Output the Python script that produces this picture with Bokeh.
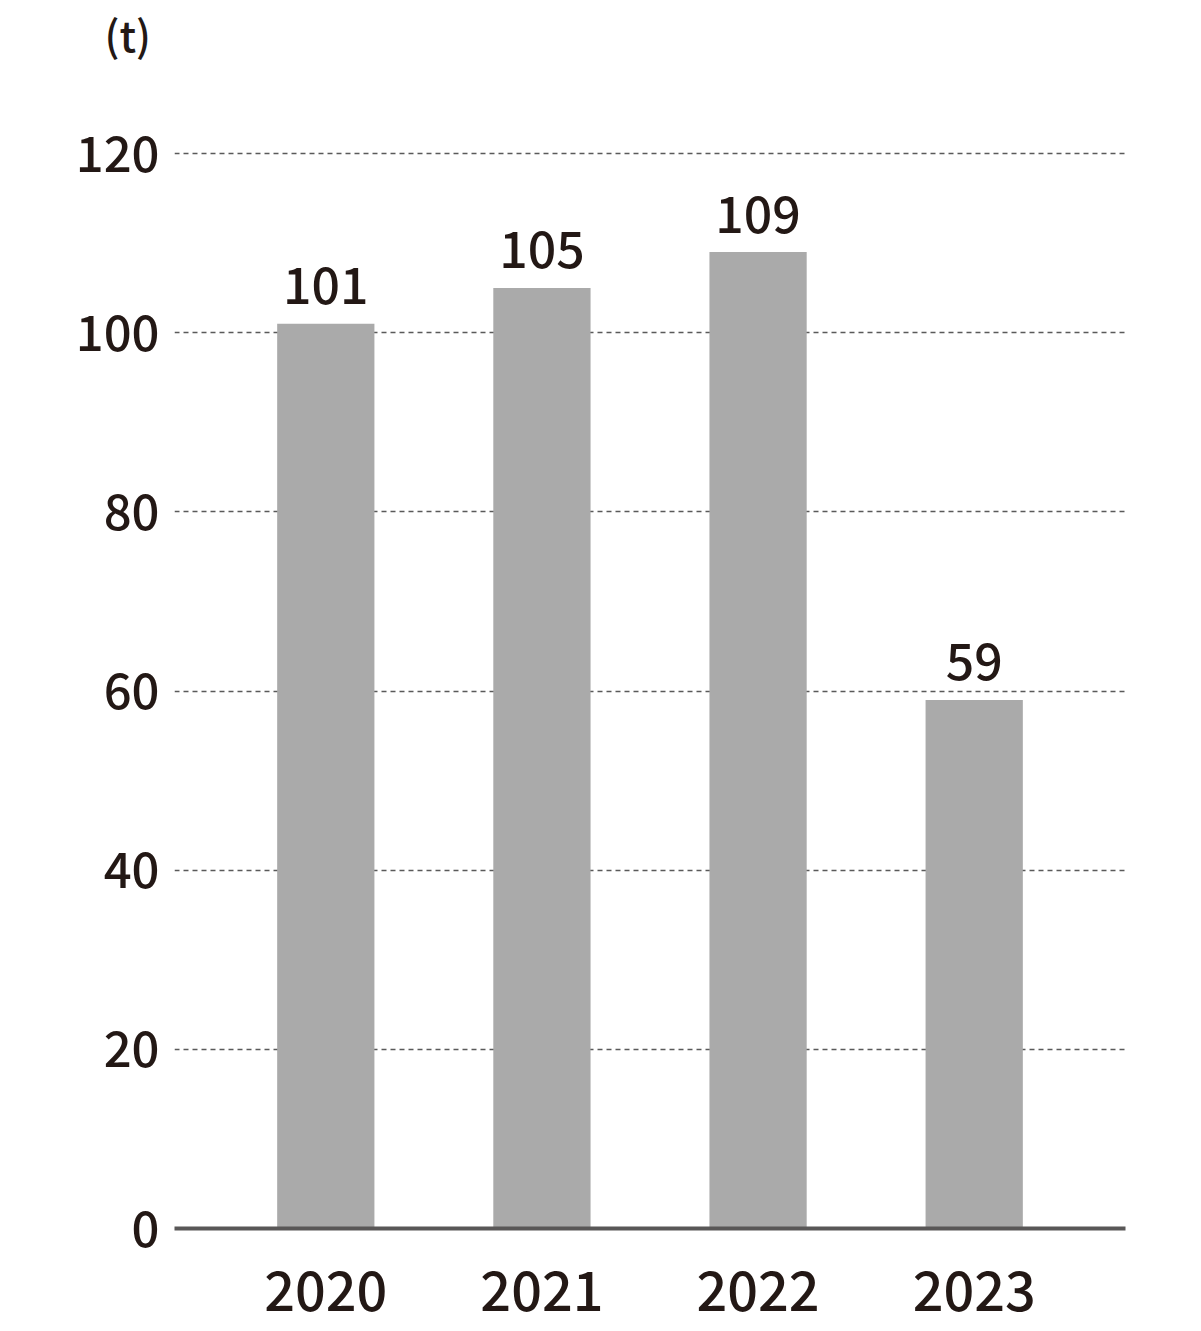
from bokeh.plotting import figure
from bokeh.models import ColumnDataSource, FixedTicker, Range1d
from bokeh.embed import file_html
from bokeh.resources import INLINE

years = ["2020", "2021", "2022", "2023"]
values = [101, 105, 109, 59]
y_ticks = [0, 20, 40, 60, 80, 100, 120]
unit_label = "(t)"

FONT = "Noto Sans CJK JP Medium"
TXT = "#231815"

xs = list(range(len(years)))
src = ColumnDataSource(dict(x=xs, top=values, lab=[str(v) for v in values]))

p = figure(width=1193, height=1331, output_backend="svg", toolbar_location=None,
           x_range=Range1d(-0.7, 3.7), y_range=Range1d(0, 130.05),
           min_border_left=174, min_border_right=68, min_border_top=63, min_border_bottom=103,
           title=unit_label)
p.outline_line_color = None
p.background_fill_color = "white"

p.title.align = "left"
p.title.offset = -70
p.title.text_font = FONT
p.title.text_font_size = "42px"
p.title.text_font_style = "normal"
p.title.text_color = TXT
p.title.standoff = 0

p.vbar(x="x", top="top", width=0.45, source=src, fill_color="#aaaaaa", line_color=None)
p.text(x="x", y="top", text="lab", source=src, text_align="center", text_baseline="alphabetic",
       y_offset=-38, text_font_size="50px", text_color=TXT, text_font={"value": FONT})

p.xgrid.grid_line_color = None
p.ygrid.ticker = FixedTicker(ticks=y_ticks)
p.ygrid.grid_line_color = "#5a5a5a"
p.ygrid.grid_line_dash = "5 4"
p.ygrid.grid_line_width = 1.4

p.yaxis.ticker = FixedTicker(ticks=y_ticks)
p.yaxis.axis_line_color = None
p.yaxis.major_tick_line_color = None
p.yaxis.minor_tick_line_color = None
p.yaxis.major_label_standoff = 9
p.yaxis.major_label_text_font = FONT
p.yaxis.major_label_text_font_size = "49px"
p.yaxis.major_label_text_color = TXT

p.xaxis.ticker = FixedTicker(ticks=xs)
p.xaxis.major_label_overrides = {i: y for i, y in zip(xs, years)}
p.xaxis.axis_line_color = "#595757"
p.xaxis.axis_line_width = 4
p.xaxis.major_tick_line_color = None
p.xaxis.minor_tick_line_color = None
p.xaxis.major_label_standoff = 36
p.xaxis.major_label_text_font = FONT
p.xaxis.major_label_text_font_size = "54px"
p.xaxis.major_label_text_color = TXT

open("out.html", "w").write(file_html(p, INLINE))
